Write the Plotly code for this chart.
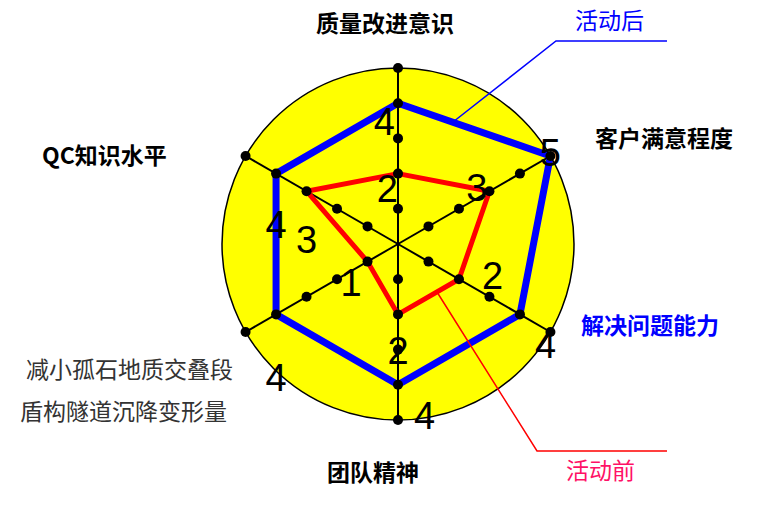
import plotly.graph_objects as go

# ---------------- data ----------------
categories = ["质量改进意识", "客户满意程度", "解决问题能力", "团队精神",
              "减小孤石地质交叠段盾构隧道沉降变形量", "QC知识水平"]
after_values = [4, 5, 4, 4, 4, 4]      # 活动后
before_values = [2, 3, 2, 2, 1, 3]     # 活动前
grid_levels = [1, 2, 3, 4, 5]
series_names = ["活动后", "活动前"]

# ---------------- styling ----------------
W, H = 760, 507
BLUE = "#0000FF"
RED = "#FF0000"
NAME_RED = "#FF1166"
YELLOW = "#FFFF00"
NUM_FONT = "Liberation Sans, Arial, sans-serif"
CJK_FONT = "Noto Sans CJK SC, sans-serif"
NUM_SIZE = 38


def px(x):
    return x / W


def py(y):
    return 1 - y / H


# label placement (style only): direction + gap (invisible marker size)
after_pos = ["bottom left", "middle center", "bottom right", "bottom right", "bottom center", "bottom center"]
after_gap = [3.2, 0, 22.4, 24.0, 75.2, 56.0]
before_pos = ["bottom left", "middle left", "middle right", "bottom center", "bottom left", "bottom center"]
before_gap = [0, 1.6, 35.2, 32.0, 8.0, 51.2]

theta_closed = categories + [categories[0]]

fig = go.Figure()

fig.add_trace(go.Scatterpolar(
    r=before_values + [before_values[0]], theta=theta_closed, mode="lines",
    line=dict(color=RED, width=5), name=series_names[1], hoverinfo="skip"))
fig.add_trace(go.Scatterpolar(
    r=after_values + [after_values[0]], theta=theta_closed, mode="lines",
    line=dict(color=BLUE, width=7), name=series_names[0], hoverinfo="skip"))

# black dots on every spoke at each level
dot_r = [lv for c in categories for lv in grid_levels]
dot_t = [c for c in categories for lv in grid_levels]
fig.add_trace(go.Scatterpolar(
    r=dot_r, theta=dot_t, mode="markers",
    marker=dict(color="black", size=10), hoverinfo="skip"))

# value labels
fig.add_trace(go.Scatterpolar(
    r=after_values, theta=categories, mode="markers+text",
    text=[str(v) for v in after_values], textposition=after_pos,
    textfont=dict(family=NUM_FONT, size=NUM_SIZE, color="black"),
    marker=dict(size=after_gap, opacity=0, color="black"), hoverinfo="skip"))
fig.add_trace(go.Scatterpolar(
    r=before_values, theta=categories, mode="markers+text",
    text=[str(v) for v in before_values], textposition=before_pos,
    textfont=dict(family=NUM_FONT, size=NUM_SIZE, color="black"),
    marker=dict(size=before_gap, opacity=0, color="black"), hoverinfo="skip"))

# polar frame: circle centre (398,244), radius 176 (page pixels)
fig.update_layout(
    width=W, height=H,
    margin=dict(l=0, r=0, t=0, b=0),
    paper_bgcolor="white",
    showlegend=False,
    polar=dict(
        domain=dict(x=[px(222), px(574)], y=[py(420), py(68)]),
        bgcolor=YELLOW,
        radialaxis=dict(range=[0, 5], visible=True, showgrid=False, showline=False,
                        showticklabels=False, ticks=""),
        angularaxis=dict(rotation=90, direction="clockwise", showgrid=True,
                         gridcolor="black", gridwidth=1.5, showline=True,
                         linecolor="black", linewidth=1.5, showticklabels=False,
                         ticks=""),
    ),
)

# category labels
cat_label_pos = [(385, 22), (664, 137), (650, 324), (373, 471), None, (104, 154)]
cat_label_color = ["black", "black", BLUE, "black", "#333333", "black"]
for name, pos, col in zip(categories, cat_label_pos, cat_label_color):
    if pos is None:
        continue
    fig.add_annotation(x=px(pos[0]), y=py(pos[1]), xref="paper", yref="paper",
                       text=f"<b>{name}</b>", showarrow=False,
                       xanchor="center", yanchor="middle",
                       font=dict(family=CJK_FONT, size=23, color=col))
long_name = categories[4]
for part, pos in zip([long_name[:9], long_name[9:]], [(129, 368), (123, 410)]):
    fig.add_annotation(x=px(pos[0]), y=py(pos[1]), xref="paper", yref="paper",
                       text=part, showarrow=False, xanchor="center", yanchor="middle",
                       font=dict(family=CJK_FONT, size=23, color="#333333"))

# series callouts
fig.add_annotation(x=px(609), y=py(19), xref="paper", yref="paper", text=series_names[0],
                   showarrow=False, xanchor="center", yanchor="middle",
                   font=dict(family=CJK_FONT, size=23, color=BLUE))
fig.add_annotation(x=px(600), y=py(469), xref="paper", yref="paper", text=series_names[1],
                   showarrow=False, xanchor="center", yanchor="middle",
                   font=dict(family=CJK_FONT, size=23, color=NAME_RED))


def callout(points, color):
    d = "M " + " L ".join(f"{px(x):.5f},{py(y):.5f}" for x, y in points)
    fig.add_shape(type="path", path=d, xref="paper", yref="paper",
                  line=dict(color=color, width=1.5))


callout([(453, 122), (556, 41), (667, 41)], BLUE)
callout([(437, 292), (537, 451), (667, 451)], RED)

# remove the browser's default page margin so the 760x507 figure fills the window
fig.write_html("out.html", config={"displayModeBar": False},
               post_script="document.body.style.margin='0';")
